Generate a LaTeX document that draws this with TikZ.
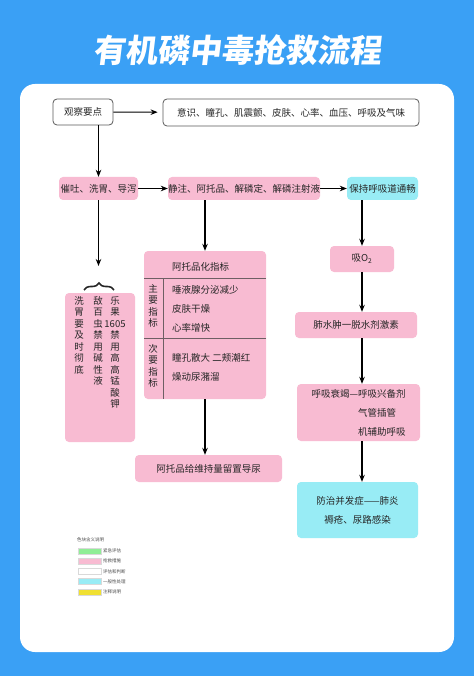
\documentclass[tikz,border=0pt]{standalone}
\usepackage{fontspec}
\setmainfont{Noto Sans CJK SC}
\newfontfamily\titlefont[FakeSlant=0.12]{Noto Sans CJK SC}
\usetikzlibrary{arrows.meta,decorations.pathreplacing}
\definecolor{bgblue}{RGB}{58,160,245}
\definecolor{boxpink}{RGB}{248,187,210}
\definecolor{boxcyan}{RGB}{152,236,245}
\definecolor{legGreen}{RGB}{144,238,150}
\definecolor{legYellow}{RGB}{240,224,50}
\definecolor{rulegray}{RGB}{110,95,100}
\begin{document}
\begin{tikzpicture}[x=1pt,y=-1pt,
  box/.style={rounded corners=4pt, inner sep=0pt, text=black!85, font=\fontsize{9.5}{11}\selectfont},
  obsbox/.style={box, draw=black!65, line width=0.8pt, fill=white},
  aidbox/.style={box, fill=boxpink},
  carebox/.style={box, fill=boxcyan},
  arr/.style={-{Stealth[length=7pt,width=5.5pt]}, line width=1.1pt},
  txt/.style={inner sep=0pt, text=black!85, font=\fontsize{9.5}{19}\selectfont},
  vtxt/.style={txt, align=center, anchor=north, font=\fontsize{9.5}{11.5}\selectfont}]
% Background and panel
\useasboundingbox (0,0) rectangle (474,676);
\fill[bgblue] (0,0) rectangle (474,676);
\fill[white, rounded corners=15pt] (20,84) rectangle (454,652);

% Title
\node[text=white, font=\titlefont\bfseries\fontsize{32}{34}\selectfont] (title) at (237,50) {有机磷中毒抢救流程};

% Top rows
\node[obsbox, minimum width=60, minimum height=26] (obs) at (83,112) {观察要点};
\node[obsbox, minimum width=256, minimum height=27] (signs) at (291,112.5) {意识、瞳孔、肌震颤、皮肤、心率、血压、呼吸及气味};
\node[aidbox, minimum width=79, minimum height=23] (emesis) at (98.5,188.5) {催吐、洗胃、导泻};
\node[aidbox, minimum width=152, minimum height=23] (iv) at (244,188.5) {静注、阿托品、解磷定、解磷注射液};
\node[carebox, minimum width=71, minimum height=23] (airway) at (382.5,188.5) {保持呼吸道通畅};

% Left column
\coordinate (bracetip) at (98.5,266);
\draw[black!85, line width=1.6pt, decorate, decoration={brace, amplitude=7pt}] (84,290) -- (114,290);
\node[aidbox, minimum width=70, minimum height=149] (caution) at (100,367.5) {};
\node[vtxt] (col1) at (79,296) {洗\\胃\\要\\及\\时\\彻\\底};
\node[vtxt] (col2) at (98,296) {敌\\百\\虫\\禁\\用\\碱\\性\\液};
\node[vtxt] (col3) at (115,296) {乐\\果\\1605\\禁\\用\\高\\高\\锰\\酸\\钾};

% Atropine box
\node[aidbox, minimum width=122, minimum height=148] (atro) at (205,325) {};
\draw[rulegray, line width=0.6pt] (144,278) -- (266,278);
\draw[rulegray, line width=0.6pt] (144,338) -- (266,338);
\draw[rulegray, line width=0.6pt] (163,278) -- (163,399);
\node[txt, anchor=west] (atrohead) at (172,267) {阿托品化指标};
\node[vtxt] (major) at (153,284) {主\\要\\指\\标};
\node[vtxt] (minor) at (153,344) {次\\要\\指\\标};
\node[txt, anchor=north west, align=left] (majorlist) at (172,285) {唾液腺分泌减少\\皮肤干燥\\心率增快};
\node[txt, anchor=north west, align=left] (minorlist) at (172,353) {瞳孔散大 二颊潮红\\燥动尿潴溜};
\node[aidbox, minimum width=147, minimum height=27] (maint) at (208.5,468.5) {阿托品给维持量留置导尿};

% Right column
\node[aidbox, minimum width=64, minimum height=26] (o2) at (362,259) {吸O\textsubscript{2}};
\node[aidbox, minimum width=122, minimum height=26] (edema) at (356,325) {肺水肿一脱水剂激素};
\node[aidbox, minimum width=123, minimum height=57] (resp) at (358.5,412.5)
  {\fontsize{9.5}{19}\selectfont\begin{tabular}{@{}r@{}l@{}}呼吸衰竭—&呼吸兴备剂\\&气管插管\\&机辅助呼吸\end{tabular}};
\node[carebox, minimum width=121, minimum height=56, align=center, font=\fontsize{9.5}{19}\selectfont] (compl) at (357.5,510) {防治并发症——肺炎\\褥疮、尿路感染};

% Arrows
\draw[arr, shorten >=5pt] (obs) -- (signs);
\draw[arr] (obs.south -| emesis) -- (emesis);
\draw[arr] (emesis) -- (iv);
\draw[arr] (iv) -- (airway);
\draw[arr] (emesis) -- (bracetip);
\draw[arr] (iv.south -| atro) -- (atro);
\draw[arr] (atro) -- (atro |- maint.north);
\draw[arr] (airway.south -| o2) -- (o2);
\draw[arr] (o2) -- (o2 |- edema.north);
\draw[arr] (edema.south -| o2) -- (o2 |- resp.north);
\draw[arr] (resp.south -| o2) -- (o2 |- compl.north);

% Legend
\node[anchor=west, inner sep=0pt, text=black!70, font=\fontsize{4.5}{5}\selectfont] (legtitle) at (77,540) {色块含义说明};
\foreach \c/\t [count=\i] in {legGreen/紧急评估, boxpink/抢救措施, white/评估和判断, boxcyan/一般性处理, legYellow/注释说明} {
  \node[draw=black!15, fill=\c, minimum width=23, minimum height=6, inner sep=0pt] (sw\i) at (89.5,551+10.2*\i-10.2) {};
  \node[anchor=west, inner sep=0pt, text=black!70, font=\fontsize{4.5}{5}\selectfont] (lg\i) at (103,551+10.2*\i-10.2) {\t};
}
\end{tikzpicture}
\end{document}
